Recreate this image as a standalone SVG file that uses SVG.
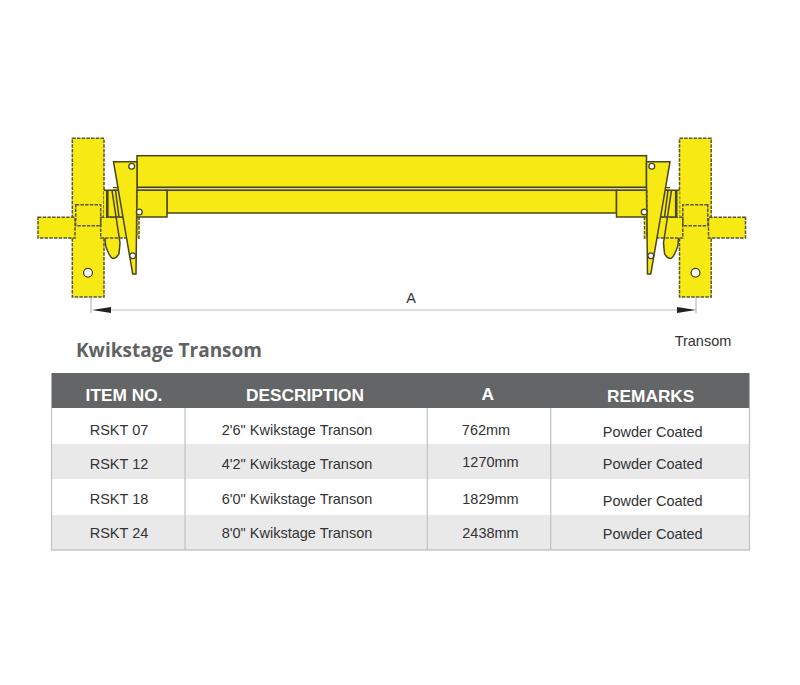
<svg xmlns="http://www.w3.org/2000/svg" xmlns:xlink="http://www.w3.org/1999/xlink" width="800" height="685" viewBox="0 0 800 685">
<style>
.y{fill:#f7ea14;stroke:#4a4520;stroke-width:1.5;stroke-linejoin:miter}
.l{fill:none;stroke:#4a4520;stroke-width:1.5}
.d{fill:#f7ea14;stroke:#5a5530;stroke-width:1.5;stroke-dasharray:3.5 1.2}
.dn{fill:none;stroke:#5a5530;stroke-width:1.5;stroke-dasharray:3.5 1.2}
.h{fill:#fff;stroke:#4a4520;stroke-width:1.3}
.t{font-family:"Liberation Sans",Arial,sans-serif;font-size:14.5px;fill:#333;text-anchor:middle}
.th{font-family:"Liberation Sans",Arial,sans-serif;font-size:17.3px;font-weight:700;fill:#fff;text-anchor:middle}
.g{stroke:#c4c5c6;stroke-width:1.3;fill:none}
</style>
<defs>
<g id="end">
<rect class="d" x="72.3" y="138.3" width="31.7" height="158.7"/>
<rect class="d" x="38" y="217.3" width="37" height="20.7"/>
<path d="M104.5 230Q104.5 243 106 247Q110 258 113 258.5Q117 258 119 253.5L120 243L118 230Z" fill="#f7ea14"/>
<rect class="d" x="100.7" y="217.3" width="38.3" height="20.7"/>
<rect class="dn" x="75.7" y="204.7" width="25" height="21"/>
<rect x="104" y="190.3" width="63" height="26.7" fill="#f7ea14"/>
<path class="l" d="M104 190.3H167V217H107.3"/>
<path class="l" d="M107.3 190.3V217" style="stroke-width:2.6"/>
<path class="l" d="M105 238Q105 243 106 247Q110 258 113 258.5Q117 258 119 253.5L120 243L112 190.3M115.5 190.3L119 217"/>
<path class="y" d="M113.5 161.7H137V190L136 274H132.7Z"/>
<path class="dn" d="M136.7 190V238"/>
<circle class="h" cx="131.7" cy="166.3" r="2.9"/>
<circle class="h" cx="139.3" cy="212" r="2.9"/>
<circle class="h" cx="132.7" cy="255.7" r="2.9"/>
<circle class="h" cx="88" cy="272.7" r="4.4"/>
</g>
</defs>
<g id="beam">
<rect class="y" x="137" y="155.7" width="509.5" height="31.5"/>
<rect x="113" y="187.2" width="557" height="3" fill="#d8d49a"/>
<path d="M113 187.5H670M113 190.3H670" stroke="#4a4520" stroke-width="1" fill="none"/>
<rect class="y" x="167" y="190.3" width="449.5" height="22.7"/>
</g>
<g id="left-end"><use xlink:href="#end" href="#end"/></g>
<g id="right-end"><use xlink:href="#end" href="#end" transform="translate(783.5 0) scale(-1 1)"/></g>
<g id="connectors">
<path d="M91 297V313M696 297V313" stroke="#aaa" stroke-width="1" fill="none"/>
<path d="M111 310H677" stroke="#bdbdbd" stroke-width="1.2" fill="none"/>
<path d="M92 310L111 307V313Z" fill="#222"/>
<path d="M696 310L677 307V313Z" fill="#222"/>
</g>
<text id="dim-a" x="411" y="303" font-family="'Liberation Sans',Arial,sans-serif" font-size="14.5" fill="#333" text-anchor="middle">A</text>
<text id="caption" x="703" y="345.5" class="t">Transom</text>
<text id="title" x="76" y="357" font-family="'Open Sans','Liberation Sans',sans-serif" font-size="19" font-weight="700" fill="#606264">Kwikstage Transom</text>
<g id="table">
<rect x="51.5" y="408" width="698" height="142" fill="#fff"/>
<rect x="51.5" y="444" width="698" height="35" fill="#e9e9ea"/>
<rect x="51.5" y="515" width="698" height="35" fill="#e9e9ea"/>
<rect x="51.5" y="373" width="698" height="35" fill="#636566"/>
<path class="g" d="M51.5 408V550H749.5V408M185 408V550M427.3 408V550M550.7 408V550"/>
<text class="th" x="124" y="401">ITEM NO.</text>
<text class="th" x="305" y="401">DESCRIPTION</text>
<text class="th" x="487.7" y="400">A</text>
<text class="th" x="650.7" y="402">REMARKS</text>
<text class="t" x="119" y="435">RSKT 07</text>
<text class="t" x="119" y="469">RSKT 12</text>
<text class="t" x="119" y="503.5">RSKT 18</text>
<text class="t" x="119" y="538">RSKT 24</text>
<text class="t" x="297" y="435">2'6" Kwikstage Transon</text>
<text class="t" x="297" y="469">4'2" Kwikstage Transon</text>
<text class="t" x="297" y="504">6'0" Kwikstage Transon</text>
<text class="t" x="297" y="538">8'0" Kwikstage Transon</text>
<text class="t" x="486" y="435">762mm</text>
<text class="t" x="490.5" y="467">1270mm</text>
<text class="t" x="490.5" y="504">1829mm</text>
<text class="t" x="490.5" y="538">2438mm</text>
<text class="t" x="652.7" y="436.5">Powder Coated</text>
<text class="t" x="652.7" y="469">Powder Coated</text>
<text class="t" x="652.7" y="506">Powder Coated</text>
<text class="t" x="652.7" y="539">Powder Coated</text>
</g>
</svg>
